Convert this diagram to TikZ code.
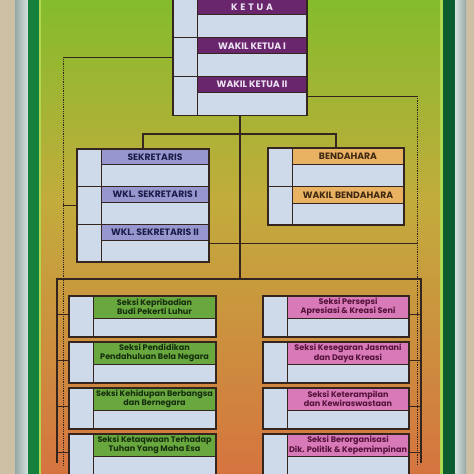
\documentclass[tikz,border=0pt]{standalone}
\usepackage{fontspec}
\setmainfont{Poppins}
\usetikzlibrary{positioning,fit}

\definecolor{dinding}{RGB}{206,192,164}
\definecolor{perakgelap}{RGB}{150,168,165}
\definecolor{perakterang}{RGB}{215,225,222}
\definecolor{bingkai}{RGB}{22,128,62}
\definecolor{bingkaigelap}{RGB}{12,92,48}
\definecolor{tepi}{RGB}{175,215,80}
\definecolor{papanatas}{RGB}{132,188,44}
\definecolor{papantengah}{RGB}{194,172,60}
\definecolor{papanbawah}{RGB}{214,116,64}
\definecolor{sel}{RGB}{206,218,234}
\definecolor{garis}{RGB}{52,38,30}
\definecolor{ungu}{RGB}{106,38,108}
\definecolor{teksungu}{RGB}{236,226,244}
\definecolor{lavender}{RGB}{152,150,206}
\definecolor{biru}{RGB}{28,28,72}
\definecolor{jingga}{RGB}{232,178,98}
\definecolor{coklat}{RGB}{64,40,18}
\definecolor{hijau}{RGB}{104,168,62}
\definecolor{hijautua}{RGB}{22,46,14}
\definecolor{merahmuda}{RGB}{216,122,184}
\definecolor{ungutua}{RGB}{84,18,58}

\tikzset{
  sel/.style={draw=garis,fill=sel,line width=1bp},
  kotak/.style={draw=garis,line width=1.3bp,inner sep=0},
  teks/.style={inner sep=0,align=center},
  pitaungu/.style={draw=garis,line width=1bp,fill=ungu,text=teksungu,font=\bfseries\fontsize{9.4}{10}\selectfont},
  pitalavender/.style={draw=garis,line width=1bp,fill=lavender,text=biru,font=\bfseries\fontsize{9.3}{10}\selectfont},
  pitajingga/.style={draw=garis,line width=1bp,fill=jingga,text=coklat,font=\bfseries\fontsize{9.3}{10}\selectfont},
  pitahijau/.style={draw=garis,line width=1bp,fill=hijau,text=hijautua,font=\bfseries\fontsize{8.1}{8.7}\selectfont},
  pitapink/.style={draw=garis,line width=1bp,fill=merahmuda,text=ungutua,font=\bfseries\fontsize{8.1}{8.7}\selectfont},
  penghubung/.style={draw=garis,line width=1.2bp},
  koordinasi/.style={draw=garis,line width=0.8bp,densely dotted},
}

% #1 nama, #2 kiri, #3 kanan, #4 atas, #5 tinggi unit, #6 tinggi pita, #7 jumlah unit, #8 gaya pita, #9 jabatan
\newcommand\bagan[9]{%
  \coordinate (#1-a) at (#2,#4);
  \coordinate (#1-b) at (#3,#4+#7*#5);
  \foreach \jabatan [count=\j] in {#9}{
    \pgfmathsetmacro\ya{#4+(\j-1)*#5}
    \draw[sel] (#2,\ya) rectangle (#2+24,\ya+#5);
    \draw[sel] (#2+24,\ya) rectangle (#3,\ya+#5);
    \draw[#8] (#2+24,\ya) rectangle node[teks] (#1-\j) {\jabatan} (#3,\ya+#6);
  }
  \node[kotak,fit=(#1-a)(#1-b)] (#1) {};
}

\begin{document}
\begin{tikzpicture}[x=1bp,y=-1bp]
\useasboundingbox (0,0) rectangle (474,474);
% papan dan bingkai
\fill[dinding] (0,0) rectangle (474,474);
\shade[left color=perakgelap,right color=perakterang] (15,0) rectangle (28,474);
\fill[bingkai] (28,0) rectangle (40,474);
\shade[top color=papanatas,bottom color=papantengah] (40,0) rectangle (441,200);
\shade[top color=papantengah,bottom color=papanbawah] (40,200) rectangle (441,474);
\fill[tepi] (39,0) rectangle (41,474);
\fill[tepi] (440,0) rectangle (443,474);
\fill[bingkaigelap] (443,0) rectangle (455,474);
\shade[left color=perakterang,right color=perakgelap] (455,0) rectangle (466,474);

% pengurus inti
\bagan{ketua}{173}{307}{-1}{38.8}{16}{3}{pitaungu}{{\addfontfeature{LetterSpace=30}KETUA},WAKIL KETUA I,WAKIL KETUA II}
\bagan{sekretaris}{77}{209}{149}{37.7}{16}{3}{pitalavender}{SEKRETARIS,WKL. SEKRETARIS I,WKL. SEKRETARIS II}
\bagan{bendahara}{268}{404}{148}{38.5}{17}{2}{pitajingga}{BENDAHARA,WAKIL BENDAHARA}

% seksi-seksi
\foreach \tinggi/\nama [count=\i] in {296/{Seksi Kepribadian\\Budi Pekerti Luhur},
  342/{Seksi Pendidikan\\Pendahuluan Bela Negara},
  388/{Seksi Kehidupan Berbangsa\\dan Bernegara},
  434/{Seksi Ketaqwaan Terhadap\\Tuhan Yang Maha Esa}}
  \bagan{kiri-\i}{69}{216}{\tinggi}{41}{22}{1}{pitahijau}{\nama};
\foreach \tinggi/\nama [count=\i] in {296/{Seksi Persepsi\\Apresiasi \& Kreasi Seni},
  342/{Seksi Kesegaran Jasmani\\dan Daya Kreasi},
  388/{Seksi Keterampilan\\dan Kewiraswastaan},
  434/{Seksi Berorganisasi\\Dik. Politik \& Kepemimpinan}}
  \bagan{kanan-\i}{263}{409}{\tinggi}{41}{22}{1}{pitapink}{\nama};

% garis komando
\coordinate (bawah) at (0,279);
\coordinate (simpul) at (ketua.south |- bawah);
\coordinate (cabang) at (ketua.south |- 0,134);
\coordinate (sudutkiri) at (57,279);
\coordinate (sudutkanan) at (421,279);
\draw[penghubung] (ketua.south) -- (simpul);
\draw[penghubung] (sekretaris.north) |- (cabang) -| (bendahara.north);
\draw[penghubung] (sudutkiri) ++(0,184) -- (sudutkiri) -- (sudutkanan) -- ++(0,184);
\foreach \i in {1,...,4}{
  \draw[penghubung] ([yshift=2bp]kiri-\i.west) -- ([yshift=2bp]kiri-\i.west -| sudutkiri);
  \draw[penghubung] ([yshift=2bp]kanan-\i.east) -- ([yshift=2bp]kanan-\i.east -| sudutkanan);
}

% garis koordinasi
\coordinate (gariskiri) at (63,0);
\coordinate (gariskanan) at (417,0);
\draw[garis,line width=0.9bp] (ketua.west) -- (ketua.west -| gariskiri);
\draw[garis,line width=0.9bp] ([yshift=20bp]ketua.south east) -- ([yshift=20bp]ketua.south east -| gariskanan);
\draw[garis,line width=0.9bp] (sekretaris.west) -- (sekretaris.west -| gariskiri);
\draw[garis,line width=0.9bp] (sekretaris.east |- 0,243) -- (gariskanan |- 0,243);
\draw[koordinasi] (ketua.west -| gariskiri) -- (gariskiri |- 0,465);
\draw[koordinasi] ([yshift=20bp]ketua.south east -| gariskanan) -- (gariskanan |- 0,465);
\end{tikzpicture}
\end{document}
